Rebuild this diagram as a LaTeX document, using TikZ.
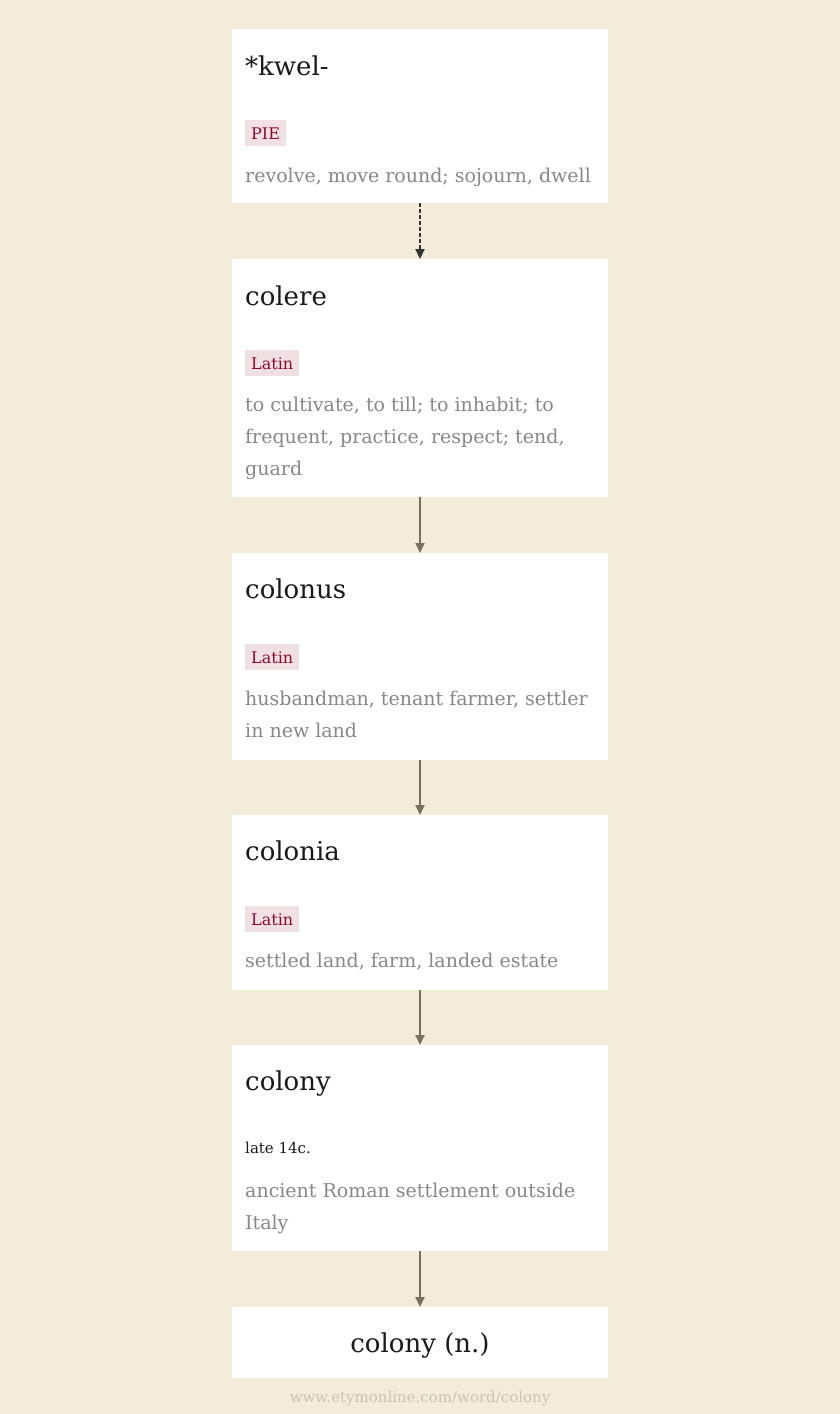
\documentclass[tikz,border=0pt]{standalone}
\usepackage{fontspec}
\setmainfont{DejaVu Serif}
\usetikzlibrary{arrows.meta}
\definecolor{bgc}{HTML}{F3ECDB}
\definecolor{tagbg}{HTML}{F0E0E3}
\definecolor{tagfg}{HTML}{8B0A2A}
\definecolor{defc}{HTML}{888888}
\definecolor{titlec}{HTML}{1A1A1A}
\definecolor{arrc}{HTML}{77705F}
\definecolor{footc}{HTML}{C8C4B8}
\tikzset{
  card/.style={fill=white, draw=none, inner sep=0pt, outer sep=0pt},
  wtitle/.style={anchor=base west, inner sep=0pt, text=titlec, font=\fontsize{26}{30}\selectfont},
  tag/.style={anchor=base west, fill=tagbg, text=tagfg, inner xsep=6pt, inner ysep=0pt, minimum height=26pt, text depth=0pt, font=\fontsize{16}{18}\selectfont},
  defn/.style={anchor=base west, inner sep=0pt, text=defc, align=left, font=\fontsize{19}{32}\selectfont},
  dated/.style={anchor=base west, inner sep=0pt, text=titlec, font=\fontsize{15}{18}\selectfont},
  link/.style={draw=arrc, line width=1.8pt, -{Triangle[length=10pt,width=9pt]}},
  dlink/.style={draw=black!80, line width=2.2pt, dash pattern=on 3.5pt off 2.5pt, -{Triangle[length=10pt,width=9pt]}},
}
\begin{document}
\begin{tikzpicture}[x=1pt,y=-1pt]
\fill[bgc] (0,0) rectangle (840,1414);
\useasboundingbox (0,0) rectangle (840,1414);
% cards
\node[card, minimum width=376pt, minimum height=174pt, anchor=north west] (b1) at (232,29) {};
\node[card, minimum width=376pt, minimum height=238pt, anchor=north west] (b2) at (232,259) {};
\node[card, minimum width=376pt, minimum height=207pt, anchor=north west] (b3) at (232,553) {};
\node[card, minimum width=376pt, minimum height=175pt, anchor=north west] (b4) at (232,815) {};
\node[card, minimum width=376pt, minimum height=206pt, anchor=north west] (b5) at (232,1045) {};
\node[card, minimum width=376pt, minimum height=71pt, anchor=north west] (b6) at (232,1307) {};
% box 1
\node[wtitle] (t1) at (245,75) {*kwel-};
\node[tag] (g1) at (245,139) {PIE};
\node[defn] (d1) at (245,182) {revolve, move round; sojourn, dwell};
% box 2
\node[wtitle] (t2) at (245,305) {colere};
\node[tag] (g2) at (245,369) {Latin};
\node[defn] (d2) at (245,475) {to cultivate, to till; to inhabit; to\\frequent, practice, respect; tend,\\guard};
% box 3
\node[wtitle] (t3) at (245,598) {colonus};
\node[tag] (g3) at (245,663) {Latin};
\node[defn] (d3) at (245,737) {husbandman, tenant farmer, settler\\in new land};
% box 4
\node[wtitle] (t4) at (245,860) {colonia};
\node[tag] (g4) at (245,925) {Latin};
\node[defn] (d4) at (245,967) {settled land, farm, landed estate};
% box 5
\node[wtitle] (t5) at (245,1090) {colony};
\node[dated] (y5) at (245,1153) {late 14c.};
\node[defn] (d5) at (245,1229) {ancient Roman settlement outside\\Italy};
% box 6
\node[wtitle, anchor=base] (t6) at (420,1352) {colony (n.)};
% footer
\node[anchor=base, inner sep=0pt, text=footc, font=\fontsize{15}{18}\selectfont] (foot) at (420,1402) {www.etymonline.com/word/colony};
% arrows
\draw[dlink] (b1.south) -- (b2.north);
\draw[link] (b2.south) -- (b3.north);
\draw[link] (b3.south) -- (b4.north);
\draw[link] (b4.south) -- (b5.north);
\draw[link] (b5.south) -- (b6.north);
\end{tikzpicture}
\end{document}
